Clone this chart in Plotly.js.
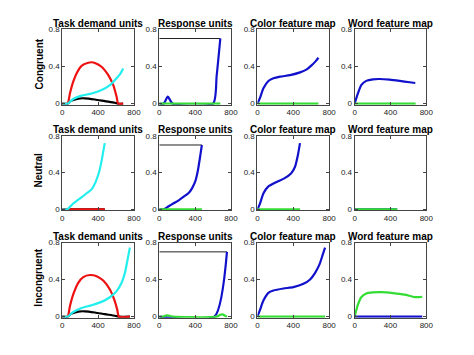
<!DOCTYPE html>
<html>
<head>
<meta charset="utf-8">
<script src="https://cdn.plot.ly/plotly-3.0.1.min.js"></script>
<style>html,body{margin:0;padding:0;background:#fff;}#chart{width:474px;height:355px;}</style>
</head>
<body>
<div id="chart"></div>
<script>
// ---------- labels ----------
const columnTitles = ['Task demand units', 'Response units', 'Color feature map', 'Word feature map'];
const rowLabels = ['Congruent', 'Neutral', 'Incongruent'];
const xTickVals = [0, 400, 800];
const xTickText = ['0', '400', '800'];
const yTickVals = [0, 0.4, 0.8];
const yTickText = ['0', '0.4', '0.8'];

// ---------- Congruent ----------
const congRedX   = [0, 60, 86, 123, 160, 216, 291, 330, 365, 439, 514, 570, 607, 625, 680];
const congRedY   = [0, 0, 0.11, 0.236, 0.325, 0.407, 0.44, 0.445, 0.437, 0.397, 0.307, 0.2, 0.075, 0, 0];
const congBlackX = [0, 60, 98, 179, 253, 365, 476, 588, 625, 680];
const congBlackY = [0, 0, 0.03, 0.055, 0.058, 0.045, 0.027, 0.01, 0, 0];
const congCyanX  = [0, 60, 123, 216, 328, 439, 532, 588, 644, 680];
const congCyanY  = [0, 0, 0.05, 0.086, 0.11, 0.147, 0.2, 0.254, 0.315, 0.379];
const congRespBlueX  = [0, 48, 95, 149, 600, 640, 681];
const congRespBlueY  = [0, 0, 0.075, 0, 0, 0.3, 0.7];
const congRespGreenX = [0, 681];
const congRespGreenY = [0, 0];
const congThreshX = [0, 681];
const congThreshY = [0.7, 0.7];
const congColorBlueX  = [0, 30, 67, 123, 179, 253, 365, 476, 551, 607, 651, 681];
const congColorBlueY  = [0, 0.065, 0.165, 0.243, 0.272, 0.29, 0.307, 0.336, 0.369, 0.414, 0.457, 0.493];
const congColorGreenX = [0, 681];
const congColorGreenY = [0, 0];
const congWordBlueX  = [0, 37, 74, 130, 205, 279, 391, 502, 614, 677];
const congWordBlueY  = [0, 0.11, 0.2, 0.245, 0.262, 0.265, 0.258, 0.245, 0.23, 0.222];
const congWordGreenX = [0, 681];
const congWordGreenY = [0, 0];

// ---------- Neutral ----------
const neutRedX   = [0, 475];
const neutRedY   = [0, 0];
const neutBlackX = [0, 475];
const neutBlackY = [0, 0];
const neutCyanX  = [0, 56, 120, 200, 280, 330, 370, 410, 440, 460, 475];
const neutCyanY  = [0, 0, 0.06, 0.12, 0.18, 0.22, 0.29, 0.4, 0.53, 0.64, 0.72];
const neutRespBlueX  = [0, 50, 100, 160, 220, 272, 330, 365, 400, 430, 458, 475];
const neutRespBlueY  = [0, 0, 0.03, 0.065, 0.1, 0.137, 0.18, 0.228, 0.3, 0.42, 0.59, 0.7];
const neutRespGreenX = [0, 475];
const neutRespGreenY = [0, 0];
const neutThreshX = [0, 475];
const neutThreshY = [0.7, 0.7];
const neutColorBlueX  = [0, 30, 68, 120, 220, 300, 375, 420, 452, 475];
const neutColorBlueY  = [0, 0.065, 0.174, 0.246, 0.3, 0.337, 0.39, 0.463, 0.59, 0.72];
const neutColorGreenX = [0, 475];
const neutColorGreenY = [0, 0];
const neutWordBlueX  = [0, 475];
const neutWordBlueY  = [0, 0];
const neutWordGreenX = [0, 475];
const neutWordGreenY = [0, 0];

// ---------- Incongruent ----------
const incRedX   = [0, 60, 86, 123, 179, 235, 309, 384, 458, 532, 581, 614, 633, 755];
const incRedY   = [0, 0, 0.113, 0.24, 0.366, 0.428, 0.45, 0.437, 0.39, 0.293, 0.185, 0.076, 0, 0];
const incBlackX = [0, 60, 98, 179, 253, 365, 476, 588, 635, 755];
const incBlackY = [0, 0, 0.03, 0.055, 0.058, 0.045, 0.027, 0.01, 0, 0];
const incCyanX  = [0, 60, 123, 216, 328, 439, 532, 607, 663, 700, 730, 755];
const incCyanY  = [0, 0, 0.05, 0.094, 0.124, 0.16, 0.21, 0.276, 0.366, 0.474, 0.62, 0.746];
const incRespBlueX  = [0, 615, 755];
const incRespBlueY  = [0, 0, 0.7];
const incRespGreenX = [0, 40, 80, 110, 150, 640, 680, 705, 730, 755];
const incRespGreenY = [0, 0, 0.015, 0.01, 0, 0, 0.02, 0.025, 0.012, 0];
const incThreshX = [0, 755];
const incThreshY = [0.7, 0.7];
const incColorBlueX  = [0, 30, 67, 123, 179, 291, 402, 514, 588, 644, 693, 730, 755];
const incColorBlueY  = [0, 0.076, 0.174, 0.257, 0.282, 0.304, 0.319, 0.355, 0.402, 0.474, 0.565, 0.673, 0.746];
const incColorGreenX = [0, 755];
const incColorGreenY = [0, 0];
const incWordBlueX  = [0, 755];
const incWordBlueY  = [0, 0];
const incWordGreenX = [0, 37, 74, 130, 205, 298, 428, 558, 670, 720, 755];
const incWordGreenY = [0, 0.13, 0.21, 0.25, 0.262, 0.265, 0.255, 0.238, 0.212, 0.212, 0.215];

// ---------- styling ----------
const W = 474, H = 355;
const colPx = [[62.2, 133.9], [159.3, 231.0], [257.4, 329.1], [354.6, 426.3]];
const rowPx = [[29.2, 103.7], [135.8, 209.3], [242.6, 316.7]];
const C = {red: '#ee1111', black: '#000000', cyan: '#22eeee', blue: '#1111cc', green: '#33dd33', thr: '#222222'};
const LW = 2.2;

const traces = [];
function addLine(ax, x, y, color, width, shape) {
  const suf = ax === 1 ? '' : String(ax);
  traces.push({
    type: 'scatter', mode: 'lines', x: x, y: y,
    xaxis: 'x' + suf, yaxis: 'y' + suf,
    line: {color: color, width: width, shape: shape || 'spline', smoothing: 0.6},
    hoverinfo: 'skip', showlegend: false
  });
}
function rowTraces(r, d) {
  const base = r * 4;
  addLine(base + 1, d.blackX, d.blackY, C.black, LW);
  addLine(base + 1, d.redX, d.redY, C.red, LW);
  addLine(base + 1, d.cyanX, d.cyanY, C.cyan, LW);
  addLine(base + 2, d.thrX, d.thrY, C.thr, 1, 'linear');
  addLine(base + 2, d.rbX, d.rbY, C.blue, LW);
  addLine(base + 2, d.rgX, d.rgY, C.green, LW);
  addLine(base + 3, d.cbX, d.cbY, C.blue, LW);
  addLine(base + 3, d.cgX, d.cgY, C.green, LW);
  if (d.wordGreenOnTop) {
    addLine(base + 4, d.wbX, d.wbY, C.blue, LW);
    addLine(base + 4, d.wgX, d.wgY, C.green, LW);
  } else {
    addLine(base + 4, d.wgX, d.wgY, C.green, LW);
    addLine(base + 4, d.wbX, d.wbY, C.blue, LW);
  }
}
rowTraces(0, {redX: congRedX, redY: congRedY, blackX: congBlackX, blackY: congBlackY, cyanX: congCyanX, cyanY: congCyanY,
  thrX: congThreshX, thrY: congThreshY, rbX: congRespBlueX, rbY: congRespBlueY, rgX: congRespGreenX, rgY: congRespGreenY,
  cbX: congColorBlueX, cbY: congColorBlueY, cgX: congColorGreenX, cgY: congColorGreenY,
  wbX: congWordBlueX, wbY: congWordBlueY, wgX: congWordGreenX, wgY: congWordGreenY, wordGreenOnTop: true});
rowTraces(1, {redX: neutRedX, redY: neutRedY, blackX: neutBlackX, blackY: neutBlackY, cyanX: neutCyanX, cyanY: neutCyanY,
  thrX: neutThreshX, thrY: neutThreshY, rbX: neutRespBlueX, rbY: neutRespBlueY, rgX: neutRespGreenX, rgY: neutRespGreenY,
  cbX: neutColorBlueX, cbY: neutColorBlueY, cgX: neutColorGreenX, cgY: neutColorGreenY,
  wbX: neutWordBlueX, wbY: neutWordBlueY, wgX: neutWordGreenX, wgY: neutWordGreenY, wordGreenOnTop: true});
rowTraces(2, {redX: incRedX, redY: incRedY, blackX: incBlackX, blackY: incBlackY, cyanX: incCyanX, cyanY: incCyanY,
  thrX: incThreshX, thrY: incThreshY, rbX: incRespBlueX, rbY: incRespBlueY, rgX: incRespGreenX, rgY: incRespGreenY,
  cbX: incColorBlueX, cbY: incColorBlueY, cgX: incColorGreenX, cgY: incColorGreenY,
  wbX: incWordBlueX, wbY: incWordBlueY, wgX: incWordGreenX, wgY: incWordGreenY, wordGreenOnTop: false});

const FONT = '"Liberation Sans", Arial, Helvetica, sans-serif';
const layout = {
  width: W, height: H,
  margin: {l: 0, r: 0, t: 0, b: 0},
  paper_bgcolor: '#ffffff', plot_bgcolor: '#ffffff',
  showlegend: false,
  font: {family: FONT, size: 8, color: '#222'},
  annotations: []
};
for (let r = 0; r < 3; r++) {
  for (let c = 0; c < 4; c++) {
    const i = r * 4 + c + 1;
    const suf = i === 1 ? '' : String(i);
    const common = {
      showgrid: false, zeroline: false, showline: true, linecolor: '#444', linewidth: 1,
      mirror: 'ticks', ticks: 'inside', ticklen: 3, tickwidth: 1, tickcolor: '#444',
      tickfont: {family: FONT, size: 8, color: '#222'}, fixedrange: true
    };
    layout['xaxis' + suf] = Object.assign({}, common, {
      domain: [colPx[c][0] / W, colPx[c][1] / W], anchor: 'y' + suf,
      range: [0, 800], tickmode: 'array', tickvals: xTickVals, ticktext: xTickText
    });
    layout['yaxis' + suf] = Object.assign({}, common, {
      domain: [1 - (rowPx[r][1] + 1) / H, 1 - rowPx[r][0] / H], anchor: 'x' + suf,
      range: [-0.011, 0.8], tickmode: 'array', tickvals: yTickVals, ticktext: yTickText
    });
    layout.annotations.push({
      text: '<b>' + columnTitles[c] + '</b>', xref: 'paper', yref: 'paper',
      x: (colPx[c][0] + colPx[c][1]) / 2 / W, y: 1 - (rowPx[r][0] - 6) / H,
      xanchor: 'center', yanchor: 'middle', showarrow: false,
      font: {family: FONT, size: 10, color: '#000'}
    });
  }
  layout.annotations.push({
    text: '<b>' + rowLabels[r] + '</b>', xref: 'paper', yref: 'paper',
    x: 39 / W, y: 1 - ((rowPx[r][0] + rowPx[r][1]) / 2 - 2) / H,
    xanchor: 'center', yanchor: 'middle', textangle: -90, showarrow: false,
    font: {family: FONT, size: 10, color: '#000'}
  });
}
Plotly.newPlot('chart', traces, layout, {staticPlot: true, displayModeBar: false});
</script>
</body>
</html>
